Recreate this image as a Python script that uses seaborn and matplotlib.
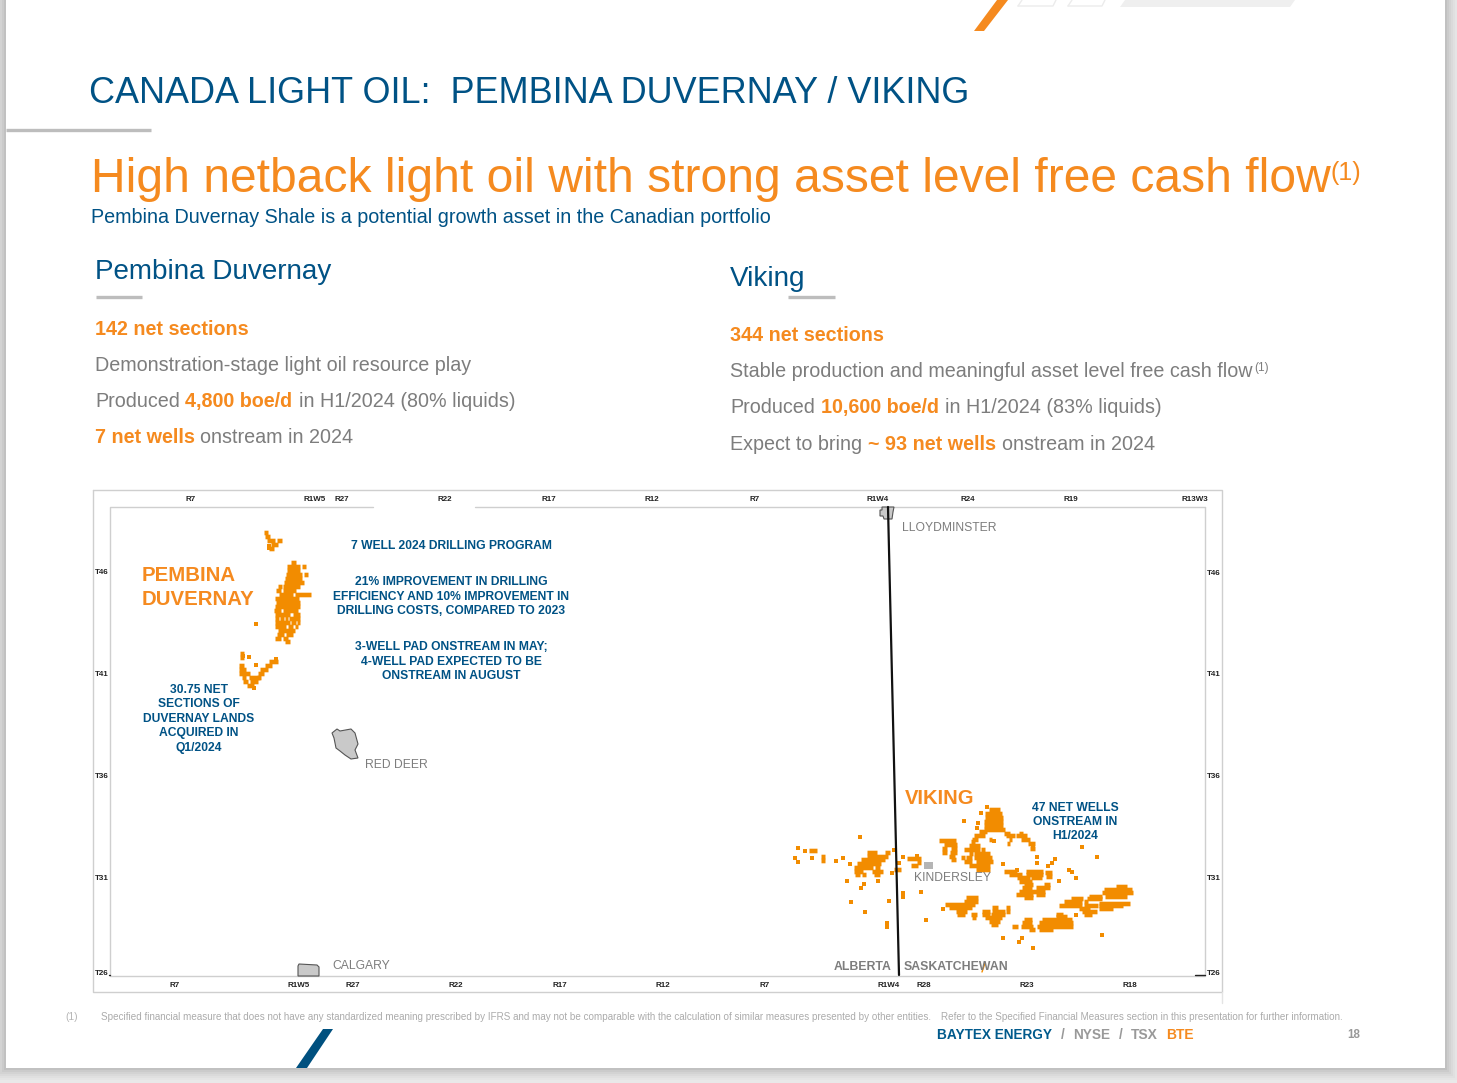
import numpy as np
import pandas as pd
import matplotlib
matplotlib.use("Agg")
import matplotlib.pyplot as plt
from matplotlib.patches import Polygon, Rectangle
import seaborn as sns

BLUE = "#005285"
ORANGE = "#f58a1f"
ACREAGE = "#f28c00"
GREY = "#7d7d7d"
LINE = "#cfcfcf"

# map labels
top_labels = ["R7", "R1W5", "R27", "R22", "R17", "R12", "R7", "R1W4", "R24", "R19", "R13W3"]
top_x = [191, 315, 342, 445, 549, 652, 755, 878, 968, 1071, 1195]
bottom_labels = ["R7", "R1W5", "R27", "R22", "R17", "R12", "R7", "R1W4", "R28", "R23", "R18"]
bottom_x = [175, 299, 353, 456, 560, 663, 765, 889, 924, 1027, 1130]
town_labels = ["T46", "T41", "T36", "T31", "T26"]
left_y = [572, 674, 776, 878, 973]
right_y = [573, 674, 776, 878, 973]

# acreage, rows are (y, x from, x to)
pembina_rows = [
    (563, 292, 296), (567, 288, 300), (567, 303, 306), (571, 288, 300), (575, 287, 302),
    (575, 305, 308), (579, 286, 302), (583, 285, 304), (587, 284, 300), (587, 279, 282),
    (591, 277, 281), (591, 284, 296), (595, 280, 293), (595, 296, 311), (599, 276, 299),
    (603, 277, 300), (607, 276, 300), (611, 275, 281), (611, 284, 298), (615, 276, 290),
    (615, 294, 300), (619, 276, 279), (619, 281, 284), (619, 286, 288), (619, 290, 300),
    (623, 276, 290), (623, 292, 296), (623, 298, 300), (627, 276, 286), (627, 289, 293),
    (627, 296, 298), (631, 279, 295), (635, 278, 284), (635, 287, 293), (639, 276, 281),
    (639, 284, 288), (642, 286, 290),
    (654, 241, 244), (658, 241, 244), (666, 240, 244), (670, 240, 246), (674, 240, 250),
    (678, 243, 246), (678, 250, 260), (682, 244, 248), (682, 251, 258), (686, 248, 254),
    (666, 266, 272), (662, 270, 278), (670, 261, 268), (674, 259, 264), (678, 258, 261),
    (533, 265, 268), (537, 266, 270), (541, 268, 275), (541, 278, 282), (545, 272, 278),
    (549, 270, 274),
]
pembina_x = [256, 243, 249, 256, 276, 269, 269, 254]
pembina_y = [624, 656, 657, 665, 659, 548, 546, 688]

viking_rows = [
    (851, 810, 817), (857, 822, 825), (861, 822, 825),
    (853, 868, 877), (853, 886, 890), (857, 868, 888), (860, 862, 885), (864, 858, 881),
    (868, 855, 873), (868, 876, 880), (872, 855, 863), (872, 873, 883), (875, 856, 860),
    (875, 863, 866), (875, 875, 880), (859, 908, 921), (863, 918, 921), (866, 912, 918),
    (870, 895, 901),
    (810, 990, 1000), (814, 986, 1002), (818, 986, 1003), (822, 985, 1003), (826, 985, 1003),
    (830, 985, 1005), (832, 980, 987), (834, 1005, 1010), (834, 1020, 1023),
    (836, 975, 985), (836, 1007, 1015), (836, 1017, 1027), (840, 973, 978), (840, 990, 992),
    (840, 1010, 1012), (840, 1022, 1030), (844, 1008, 1010), (844, 1029, 1035), (849, 1031, 1035),
    (842, 972, 975), (846, 970, 980), (850, 965, 980), (850, 982, 985), (854, 970, 973),
    (854, 975, 990), (858, 962, 965), (858, 967, 972), (858, 975, 992), (862, 965, 972),
    (862, 977, 993), (866, 970, 990), (870, 977, 990),
    (841, 940, 956), (845, 945, 957), (849, 943, 947), (849, 952, 957), (853, 943, 947),
    (853, 951, 957), (857, 950, 955), (860, 952, 956),
    (872, 1005, 1017), (872, 1027, 1043), (875, 1010, 1022), (875, 1027, 1043),
    (878, 1018, 1030), (878, 1032, 1042), (882, 1020, 1032), (885, 1025, 1033), (885, 1045, 1050),
    (888, 1023, 1032), (888, 1037, 1050), (892, 1020, 1045), (895, 1017, 1033), (895, 1037, 1045),
    (898, 1025, 1033), (873, 1046, 1052), (877, 1047, 1052),
    (887, 1117, 1127), (890, 1105, 1132), (893, 1103, 1133), (897, 1090, 1102), (897, 1106, 1127),
    (899, 1072, 1083), (899, 1088, 1102), (902, 1065, 1082), (902, 1085, 1088), (904, 1100, 1130),
    (906, 1060, 1082), (906, 1085, 1098), (906, 1100, 1123), (909, 1080, 1090), (909, 1100, 1113),
    (912, 1083, 1097), (915, 1057, 1063), (915, 1085, 1092),
    (917, 1057, 1067), (920, 1025, 1032), (920, 1043, 1072), (923, 1023, 1032), (923, 1040, 1073),
    (927, 1013, 1018), (927, 1022, 1033), (927, 1038, 1073), (930, 1030, 1035), (930, 1040, 1053),
    (898, 967, 978), (902, 965, 978), (905, 946, 975), (908, 950, 972), (912, 957, 967),
    (915, 958, 965), (915, 972, 977), (918, 973, 976),
    (908, 993, 998), (908, 1007, 1010), (912, 983, 990), (912, 993, 1005), (912, 1007, 1010),
    (915, 983, 990), (915, 992, 1005), (918, 986, 1002), (922, 990, 1000), (925, 992, 998),
]
viking_x = [860, 798, 805, 795, 798, 812, 836, 843, 850, 894, 903, 899, 892, 917, 847, 878, 864,
            861, 851, 889, 865, 887, 887, 903, 903, 926, 943, 987, 981, 964, 978, 977, 994, 1033,
            1037, 1037, 1055, 1052, 1048, 1059, 1069, 1072, 1076, 1082, 1097, 1076, 1003, 1017,
            1003, 1022, 1019, 1033, 1102, 921]
viking_y = [837, 848, 851, 858, 862, 858, 861, 858, 864, 850, 857, 863, 873, 856, 881, 881, 884,
            888, 902, 901, 912, 923, 927, 893, 897, 920, 909, 807, 813, 821, 823, 828, 841, 846,
            857, 863, 859, 863, 866, 881, 870, 872, 878, 847, 857, 915, 864, 870,
            938, 938, 942, 948, 935, 892]

# town outlines
red_deer_x = [332, 337, 340, 351, 355, 358, 355, 358, 351, 345, 340, 336, 334]
red_deer_y = [733, 729, 731, 729, 733, 744, 750, 758, 759, 755, 751, 748, 738]
calgary_x = [298, 299, 317, 319, 319, 298]
calgary_y = [966, 964, 965, 967, 976, 976]
lloyd_x = [880, 882, 882, 894, 893, 892, 884, 883, 880]
lloyd_y = [510, 510, 507, 507, 512, 519, 519, 516, 516]
kindersley_x = [924, 933, 933, 924]
kindersley_y = [862, 862, 869, 869]

sns.set_theme(style="white")
plt.rcParams["font.family"] = ["Liberation Sans", "DejaVu Sans"]

fig = plt.figure(figsize=(14.57, 10.83), dpi=100, facecolor="#e9e9e9")
ax = fig.add_axes([0, 0, 1, 1])
ax.set_xlim(0, 1457)
ax.set_ylim(1083, 0)
ax.axis("off")


def txt(x, y, s, size, color=GREY, weight="normal", ha="left", **kw):
    # va center sits a little high for this font, push it down with the size
    ax.text(x, y + size * 0.1, s, fontsize=size, color=color, fontweight=weight, ha=ha, va="center", **kw)


# page and shadow
for i, a in zip(range(12, 0, -2), [0.03, 0.04, 0.05, 0.06, 0.08, 0.1]):
    ax.add_patch(Rectangle((6 - i, 0), 1439 + 2 * i, 1068 + i, color="#707070", alpha=a, lw=0, zorder=0))
ax.add_patch(Rectangle((6, 0), 1439, 1068, color="white", lw=0, zorder=1))

# slide furniture
ax.add_patch(Polygon([(974, 31), (984, 31), (1008, 0), (997, 0)], color="#f58a1f", lw=0, zorder=2))
ax.add_patch(Polygon([(296, 1068), (307, 1068), (333, 1029), (323, 1029)], color="#00507f", lw=0, zorder=2))
ax.add_patch(Polygon([(1120, 7), (1290, 7), (1295, 0), (1125, 0)], color="#efefef", lw=0, zorder=2))
for a, b in [(1018, 1056), (1068, 1105)]:
    ax.plot([a, b - 3, b], [6, 6, 0], color="#ececec", lw=1, zorder=2)
    ax.plot([a, a + 4], [6, 0], color="#ececec", lw=1, zorder=2)
ax.plot([6, 151], [130, 130], color="#bdbdbd", lw=2.4, zorder=2, solid_capstyle="butt")
ax.plot([96, 142], [297, 297], color="#bdbdbd", lw=2.4, zorder=2, solid_capstyle="butt")
ax.plot([788, 835], [297, 297], color="#bdbdbd", lw=2.4, zorder=2, solid_capstyle="butt")

# headings
txt(89, 91, "CANADA LIGHT OIL:  PEMBINA DUVERNAY / VIKING", 25.9, BLUE)
txt(91, 176, "High netback light oil with strong asset level free cash flow", 34.6, ORANGE)
txt(1330, 171, "(1)", 18, ORANGE)
txt(91, 216, "Pembina Duvernay Shale is a potential growth asset in the Canadian portfolio", 14.24, BLUE)

# left column
txt(95, 270, "Pembina Duvernay", 20.1, BLUE)
txt(95, 328, "142 net sections", 14.2, ORANGE, "bold")
txt(95, 364, "Demonstration-stage light oil resource play", 14.25)
txt(95, 400, "Produced", 14.25)
txt(185, 400, "4,800 boe/d", 14.2, ORANGE, "bold")
txt(299, 400, "in H1/2024 (80% liquids)", 14.25)
txt(95, 436, "7 net wells", 14.2, ORANGE, "bold")
txt(200, 436, "onstream in 2024", 14.25)

# right column
txt(730, 277, "Viking", 20.1, BLUE)
txt(730, 334, "344 net sections", 14.2, ORANGE, "bold")
txt(730, 370, "Stable production and meaningful asset level free cash flow", 14.25)
txt(1254, 367, "(1)", 8.5)
txt(730, 406, "Produced", 14.25)
txt(821, 406, "10,600 boe/d", 14.2, ORANGE, "bold")
txt(945, 406, "in H1/2024 (83% liquids)", 14.25)
txt(730, 443, "Expect to bring", 14.25)
txt(868, 443, "~ 93 net wells", 14.2, ORANGE, "bold")
txt(1002, 443, "onstream in 2024", 14.25)

# map frame
ax.plot([93, 1222, 1222, 93, 93], [490, 490, 992, 992, 490], color=LINE, lw=1, zorder=2)
ax.plot([1222, 1222], [992, 1003], color="#e4e4e4", lw=1, zorder=2)
ax.plot([373, 110, 110, 1205, 1205], [507, 507, 976, 976, 507], color=LINE, lw=1, zorder=2)
ax.plot([475, 1205], [507, 507], color=LINE, lw=1, zorder=2)
ax.plot([1195, 1205], [975, 975], color="#222222", lw=1, zorder=2)
ax.plot([109, 110], [975, 975], color="#222222", lw=1, zorder=2)

for name, x in zip(top_labels, top_x):
    txt(x, 499, name, 5.8, "#222222", "bold", ha="center")
for name, x in zip(bottom_labels, bottom_x):
    txt(x, 985, name, 5.8, "#222222", "bold", ha="center")
for name, y in zip(town_labels, left_y):
    txt(102, y, name, 5.8, "#222222", "bold", ha="center")
for name, y in zip(town_labels, right_y):
    txt(1214, y, name, 5.8, "#222222", "bold", ha="center")

# towns
for xs, ys in [(red_deer_x, red_deer_y), (calgary_x, calgary_y), (lloyd_x, lloyd_y)]:
    ax.add_patch(Polygon(np.column_stack([xs, ys]), facecolor="#c9c9c9", edgecolor="#555555", lw=0.8, zorder=3))
ax.add_patch(Polygon(np.column_stack([kindersley_x, kindersley_y]), facecolor="#b5b5b5", lw=0, zorder=3))

# acreage, solid runs as bars, loose sections as squares
rows = pd.DataFrame(pembina_rows + viking_rows, columns=["y", "x0", "x1"])
bars = ax.barh(rows["y"], rows["x1"] - rows["x0"] + 1, left=rows["x0"] - 0.5, height=4.6,
               color=ACREAGE, linewidth=0, zorder=4)
for b in bars:
    b.set_snap(False)
dots = pd.DataFrame({"x": pembina_x + viking_x, "y": pembina_y + viking_y})
sns.scatterplot(data=dots, x="x", y="y", marker="s", s=12, color=ACREAGE, linewidth=0, ax=ax, zorder=4, legend=False)
ax.set_xlim(0, 1457)
ax.set_ylim(1083, 0)
ax.axis("off")

# border line between provinces
ax.plot([888, 899], [507, 975], color="#111111", lw=1.6, zorder=5)
ax.plot([985, 982], [963, 972], color=ACREAGE, lw=1, zorder=4)

# map text
txt(902, 527, "LLOYDMINSTER", 8.7, zorder=6)
txt(365, 764, "RED DEER", 8.7, zorder=6)
txt(332, 965, "CALGARY", 8.7, zorder=6)
txt(914, 877, "KINDERSLEY", 8.7, zorder=6)
txt(834, 966, "ALBERTA", 8.8, weight="bold", zorder=6)
txt(904, 966, "SASKATCHEWAN", 8.8, weight="bold", zorder=6)
txt(142, 574, "PEMBINA", 14.7, ORANGE, "bold", zorder=6)
txt(142, 598, "DUVERNAY", 14.7, ORANGE, "bold", zorder=6)
txt(905, 797, "VIKING", 14.5, ORANGE, "bold", zorder=6)

blue_notes = [
    (451, 545, "7 WELL 2024 DRILLING PROGRAM"),
    (451, 581, "21% IMPROVEMENT IN DRILLING"),
    (451, 596, "EFFICIENCY AND 10% IMPROVEMENT IN"),
    (451, 610, "DRILLING COSTS, COMPARED TO 2023"),
    (451, 646, "3-WELL PAD ONSTREAM IN MAY;"),
    (451, 661, "4-WELL PAD EXPECTED TO BE"),
    (451, 675, "ONSTREAM IN AUGUST"),
    (199, 689, "30.75 NET"),
    (199, 703, "SECTIONS OF"),
    (199, 718, "DUVERNAY LANDS"),
    (199, 732, "ACQUIRED IN"),
    (199, 747, "Q1/2024"),
    (1075, 807, "47 NET WELLS"),
    (1075, 821, "ONSTREAM IN"),
    (1075, 835, "H1/2024"),
]
for x, y, s in blue_notes:
    txt(x, y, s, 8.7, BLUE, "bold", ha="center", zorder=6)

# footer
txt(65, 1016, "(1)", 7.4, "#b5b5b5")
txt(101, 1016, "Specified financial measure that does not have any standardized meaning prescribed by IFRS and may not be "
    "comparable with the calculation of similar measures presented by other entities.", 7.13, "#ababab")
txt(941, 1016, "Refer to the Specified Financial Measures section in this presentation for further information.", 7.13, "#ababab")
txt(937, 1034, "BAYTEX ENERGY", 9.8, "#005a8c", "bold")
txt(1061, 1034, "/", 9.8, "#999999", "bold")
txt(1073, 1034, "NYSE", 9.8, "#999999", "bold")
txt(1119, 1034, "/", 9.8, "#999999", "bold")
txt(1131, 1034, "TSX", 10, "#999999", "bold")
txt(1166, 1034, "BTE", 10, ORANGE, "bold")
txt(1347, 1034, "18", 8.3, "#999999", "bold")

fig.savefig("out.png", dpi=100, facecolor=fig.get_facecolor())
